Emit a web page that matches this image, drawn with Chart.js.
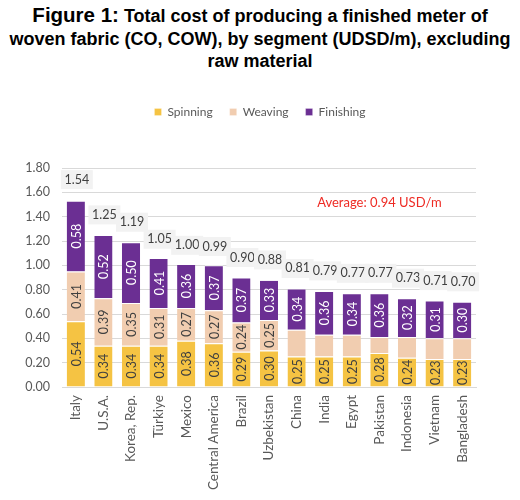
<!DOCTYPE html>
<html><head><meta charset="utf-8">
<script src="https://cdn.jsdelivr.net/npm/chart.js@4.4.0/dist/chart.umd.min.js"></script>
<style>
html,body{margin:0;padding:0;background:#fff;width:520px;height:500px;overflow:hidden;}
#title{position:absolute;left:0;top:4px;width:520px;text-align:center;font-family:"Liberation Sans",Arial,sans-serif;font-weight:bold;font-size:18px;line-height:22.5px;color:#000;}
#title .big{font-size:20.5px;}
#wrap{position:absolute;left:0;top:89px;width:520px;height:411px;}
</style></head><body>
<div id="title"><span class="big">Figure 1:</span> Total cost of producing a finished meter of<br>woven fabric (CO, COW), by segment (UDSD/m), excluding<br>raw material</div>
<div id="wrap"><canvas id="c"></canvas></div>
<script>
const categories = ["Italy","U.S.A.","Korea, Rep.","Türkiye","Mexico","Central America","Brazil","Uzbekistan","China","India","Egypt","Pakistan","Indonesia","Vietnam","Bangladesh"];
const spinning  = [0.54,0.34,0.34,0.34,0.38,0.36,0.29,0.30,0.25,0.25,0.25,0.28,0.24,0.23,0.23];
const weaving   = [0.41,0.39,0.35,0.31,0.27,0.27,0.24,0.25,0.22,0.18,0.18,0.13,0.17,0.17,0.17];
const finishing = [0.58,0.52,0.50,0.41,0.36,0.37,0.37,0.33,0.34,0.36,0.34,0.36,0.32,0.31,0.30];
const totals    = [1.54,1.25,1.19,1.05,1.00,0.99,0.90,0.88,0.81,0.79,0.77,0.77,0.73,0.71,0.70];
const weavingLabelled = [true,true,true,true,true,true,true,true,false,false,false,false,false,false,false];
const seriesNames = ["Spinning","Weaving","Finishing"];
const yMin = 0, yMax = 1.8, yStep = 0.2;
const averageText = "Average: 0.94 USD/m";
const averageIndex = 11, averageValue = 1.51;

const FONT = "Lato, 'Open Sans', sans-serif";
const colors = ["#F5C343","#F1CDB0","#6B2F93"];

const legendSpace = {
  id:'legendSpace',
  beforeInit(chart){
    const fit = chart.legend.fit;
    chart.legend.fit = function(){ fit.bind(chart.legend)(); this.height = 79; };
  }
};

const labelsPlugin = {
  id:'labelsPlugin',
  afterDatasetsDraw(chart){
    const ctx = chart.ctx;
    const xs = chart.scales.x, ys = chart.scales.y;
    ctx.save();
    ctx.font = "12.5px " + FONT;
    ctx.textAlign = 'center';
    ctx.textBaseline = 'middle';
    chart.data.datasets.forEach((ds, d) => {
      const meta = chart.getDatasetMeta(d);
      meta.data.forEach((el, i) => {
        if (d === 1 && !weavingLabelled[i]) return;
        const cy = (el.y + el.base) / 2;
        ctx.save();
        ctx.translate(el.x, cy);
        ctx.rotate(-Math.PI/2);
        ctx.fillStyle = d === 2 ? '#ffffff' : '#404040';
        ctx.fillText(ds.data[i].toFixed(2), 0, 1);
        ctx.restore();
      });
    });
    totals.forEach((t, i) => {
      const x = xs.getPixelForValue(i) + 1;
      const y = ys.getPixelForValue(t) - 20;
      ctx.fillStyle = '#F2F2F2';
      ctx.fillRect(x - 16, y - 9.5, 32, 19);
      ctx.fillStyle = '#404040';
      ctx.fillText(t.toFixed(2), x, y);
    });
    ctx.fillStyle = '#EE2B24';
    ctx.font = "13px " + FONT;
    ctx.fillText(averageText, xs.getPixelForValue(averageIndex), ys.getPixelForValue(averageValue));
    ctx.restore();
  }
};

new Chart(document.getElementById('c'), {
  type:'bar',
  data:{
    labels: categories,
    datasets:[
      {label:seriesNames[0], data:spinning, backgroundColor:colors[0]},
      {label:seriesNames[1], data:weaving, backgroundColor:colors[1]},
      {label:seriesNames[2], data:finishing, backgroundColor:colors[2]}
    ].map(d => Object.assign(d, {borderColor:'#ffffff', borderWidth:{top:1,bottom:0,left:0,right:0}, borderSkipped:false, categoryPercentage:1, barPercentage:0.66}))
  },
  options:{
    responsive:true, maintainAspectRatio:false, animation:false,
    layout:{padding:{left:0,right:0,top:0,bottom:0}},
    plugins:{
      legend:{position:'top', labels:{boxWidth:7, boxHeight:7, padding:17, color:'#595959', font:{family:FONT, size:12}}},
      tooltip:{enabled:false}
    },
    scales:{
      x:{stacked:true,
        grid:{display:false},
        border:{color:'#D9D9D9'},
        ticks:{color:'#595959', font:{family:FONT, size:13.5}, maxRotation:90, minRotation:90, padding:0, autoSkip:false},
        afterFit(s){ s.height = 113; }
      },
      y:{stacked:true, min:yMin, max:yMax,
        grid:{color:'#D9D9D9', drawTicks:false},
        border:{display:false},
        ticks:{stepSize:yStep, color:'#595959', font:{family:FONT, size:12.5}, padding:12, callback:v=>v.toFixed(2)},
        afterFit(s){ s.width = 62; }
      },
      yRight:{position:'right', min:yMin, max:yMax,
        grid:{display:false}, border:{display:false},
        ticks:{display:false},
        afterFit(s){ s.width = 44; }
      }
    }
  },
  plugins:[legendSpace, labelsPlugin]
});
</script>
</body></html>
